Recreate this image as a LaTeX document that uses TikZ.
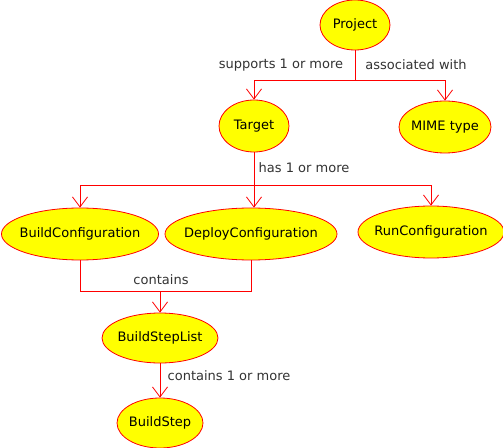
\documentclass[tikz,border=0pt]{standalone}
\usepackage{fontspec}
\setmainfont{DejaVu Sans}
\usetikzlibrary{shapes.geometric,arrows.meta}
\definecolor{lblgray}{HTML}{333333}
\definecolor{entfill}{HTML}{FFFF00}
\begin{document}
\begin{tikzpicture}[x=1bp,y=-1bp,
  ent/.style={ellipse,draw=red,fill=entfill,line width=0.8bp,inner xsep=-20bp,inner ysep=0pt,
    font=\fontsize{13bp}{15bp}\selectfont,text=black},
  conn/.style={draw=red,line width=0.8bp},
  arr/.style={conn,-{Straight Barb[length=10bp,width=15bp,line width=0.8bp]}},
  lbl/.style={font=\fontsize{13bp}{15bp}\selectfont,text=lblgray,inner sep=0pt}]
\useasboundingbox[fill=white] (0,0) rectangle (503,448);
% nodes
\node[ent,minimum width=70bp,minimum height=50bp] (proj) at (355,25) {Project};
\node[ent,minimum width=70bp,minimum height=52bp] (target) at (254,126) {Target};
\node[ent,minimum width=92bp,minimum height=52bp] (mime) at (445,127) {MIME type};
\node[ent,minimum width=157bp,minimum height=52bp] (bc) at (80,234) {BuildConfiguration};
\node[ent,minimum width=172bp,minimum height=52bp] (dc) at (251,234) {DeployConfiguration};
\node[ent,minimum width=146bp,minimum height=52bp] (rc) at (431,232) {RunConfiguration};
\node[ent,minimum width=116bp,minimum height=50bp] (bsl) at (160,338) {BuildStepList};
\node[ent,minimum width=86bp,minimum height=50bp] (bs) at (160,423) {BuildStep};
% junctions
\coordinate (j1) at (355,80);
\coordinate (j2) at (254,185);
\coordinate (j3) at (160,291);
% connectors
\draw[conn] (proj.south) -- (j1);
\draw[arr] (j1) -| (target.north);
\draw[arr] (j1) -| (mime.north);
\draw[conn] (target.south) -- (j2);
\draw[arr] (j2) -| (bc.north);
\draw[arr] (j2) -- (dc.north -| j2);
\draw[arr] (j2) -| (rc.north);
\draw[conn] (bc.south) |- (j3);
\draw[conn] (dc.south) |- (j3);
\draw[arr] (j3) -- (bsl.north);
\draw[arr] (bsl.south) -- (bs.north);
% labels
\node[lbl] (l1) at (281,65) {supports 1 or more};
\node[lbl] (l2) at (416,65) {associated with};
\node[lbl] (l3) at (304,168) {has 1 or more};
\node[lbl] (l4) at (161,280) {contains};
\node[lbl] (l5) at (229,376) {contains 1 or more};
\end{tikzpicture}
\end{document}
